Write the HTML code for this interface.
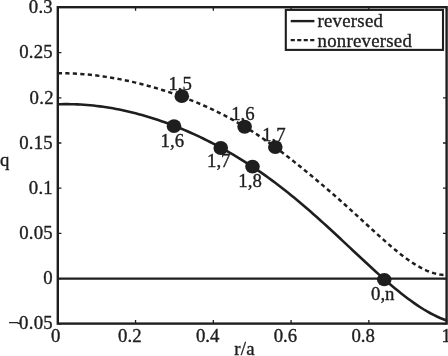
<!DOCTYPE html>
<html><head><meta charset="utf-8"><title>q profile</title>
<style>html,body{margin:0;padding:0;background:#fff;overflow:hidden}svg{display:block}</style>
</head><body>
<svg width="448" height="356" viewBox="0 0 448 356">
<rect width="448" height="356" fill="#fff"/>
<rect x="57.8" y="7.20" width="388.80" height="316.40" fill="none" stroke="#1e1e1e" stroke-width="2.4"/>
<path d="M57.8,323.80h3.6 M446.6,323.80h-3.6 M57.8,278.60h3.6 M446.6,278.60h-3.6 M57.8,233.40h3.6 M446.6,233.40h-3.6 M57.8,188.20h3.6 M446.6,188.20h-3.6 M57.8,143.00h3.6 M446.6,143.00h-3.6 M57.8,97.80h3.6 M446.6,97.80h-3.6 M57.8,52.60h3.6 M57.8,7.40h3.6 M446.6,7.40h-3.6 M57.80,323.60v-3.6 M57.80,7.20v3.6 M135.56,323.60v-3.6 M135.56,7.20v3.6 M213.32,323.60v-3.6 M213.32,7.20v3.6 M291.08,323.60v-3.6 M291.08,7.20v3.6 M368.84,323.60v-3.6 M368.84,7.20v3.6 M446.60,323.60v-3.6 M446.60,7.20v3.6" stroke="#1e1e1e" stroke-width="1.3" fill="none"/>
<path d="M57.8,278.6H446.6" stroke="#1e1e1e" stroke-width="2.4" fill="none"/>
<path d="M57.80,104.29 L61.04,104.20 L64.28,104.15 L67.52,104.15 L70.76,104.18 L74.00,104.26 L77.24,104.38 L80.48,104.54 L83.72,104.74 L86.96,104.98 L90.20,105.26 L93.44,105.58 L96.68,105.94 L99.92,106.34 L103.16,106.78 L106.40,107.26 L109.64,107.78 L112.88,108.33 L116.12,108.93 L119.36,109.57 L122.60,110.24 L125.84,110.95 L129.08,111.70 L132.32,112.48 L135.56,113.31 L138.80,114.17 L142.04,115.06 L145.28,115.99 L148.52,116.96 L151.76,117.96 L155.00,119.00 L158.24,120.07 L161.48,121.18 L164.72,122.32 L167.96,123.50 L171.20,124.72 L174.44,125.96 L177.68,127.24 L180.92,128.56 L184.16,129.91 L187.40,131.30 L190.64,132.72 L193.88,134.17 L197.12,135.66 L200.36,137.19 L203.60,138.75 L206.84,140.35 L210.08,141.98 L213.32,143.64 L216.56,145.35 L219.80,147.09 L223.04,148.86 L226.28,150.67 L229.52,152.52 L232.76,154.41 L236.00,156.33 L239.24,158.30 L242.48,160.30 L245.72,162.34 L248.96,164.42 L252.20,166.54 L255.44,168.70 L258.68,170.90 L261.92,173.14 L265.16,175.42 L268.40,177.75 L271.64,180.11 L274.88,182.52 L278.12,184.97 L281.36,187.46 L284.60,189.99 L287.84,192.56 L291.08,195.17 L294.32,197.82 L297.56,200.50 L300.80,203.22 L304.04,205.97 L307.28,208.76 L310.52,211.58 L313.76,214.42 L317.00,217.30 L320.24,220.20 L323.48,223.13 L326.72,226.08 L329.96,229.05 L333.20,232.04 L336.44,235.04 L339.68,238.06 L342.92,241.08 L346.16,244.12 L349.40,247.15 L352.64,250.19 L355.88,253.23 L359.12,256.26 L362.36,259.28 L365.60,262.29 L368.84,265.28 L372.08,268.25 L375.32,271.20 L378.56,274.12 L381.80,277.01 L385.04,279.86 L388.28,282.68 L391.52,285.44 L394.76,288.16 L398.00,290.82 L401.24,293.42 L404.48,295.95 L407.72,298.42 L410.96,300.81 L414.20,303.12 L417.44,305.34 L420.68,307.47 L423.92,309.50 L427.16,311.43 L430.40,313.25 L433.64,314.95 L436.88,316.53 L440.12,317.99 L443.36,319.30 L446.60,320.48" stroke="#1e1e1e" stroke-width="2.6" fill="none"/>
<path d="M57.80,73.24 L61.04,73.24 L64.28,73.27 L67.52,73.33 L70.76,73.44 L74.00,73.58 L77.24,73.75 L80.48,73.96 L83.72,74.21 L86.96,74.48 L90.20,74.80 L93.44,75.15 L96.68,75.53 L99.92,75.94 L103.16,76.39 L106.40,76.87 L109.64,77.39 L112.88,77.93 L116.12,78.51 L119.36,79.12 L122.60,79.75 L125.84,80.42 L129.08,81.12 L132.32,81.85 L135.56,82.61 L138.80,83.40 L142.04,84.21 L145.28,85.06 L148.52,85.94 L151.76,86.84 L155.00,87.78 L158.24,88.74 L161.48,89.73 L164.72,90.76 L167.96,91.81 L171.20,92.90 L174.44,94.01 L177.68,95.15 L180.92,96.33 L184.16,97.54 L187.40,98.78 L190.64,100.05 L193.88,101.36 L197.12,102.70 L200.36,104.07 L203.60,105.48 L206.84,106.92 L210.08,108.40 L213.32,109.92 L216.56,111.48 L219.80,113.07 L223.04,114.71 L226.28,116.38 L229.52,118.10 L232.76,119.86 L236.00,121.66 L239.24,123.51 L242.48,125.40 L245.72,127.34 L248.96,129.33 L252.20,131.37 L255.44,133.46 L258.68,135.59 L261.92,137.78 L265.16,140.01 L268.40,142.29 L271.64,144.61 L274.88,146.98 L278.12,149.38 L281.36,151.82 L284.60,154.30 L287.84,156.80 L291.08,159.33 L294.32,161.89 L297.56,164.48 L300.80,167.08 L304.04,169.71 L307.28,172.36 L310.52,175.03 L313.76,177.72 L317.00,180.43 L320.24,183.16 L323.48,185.91 L326.72,188.68 L329.96,191.47 L333.20,194.28 L336.44,197.12 L339.68,199.98 L342.92,202.87 L346.16,205.77 L349.40,208.70 L352.64,211.64 L355.88,214.60 L359.12,217.57 L362.36,220.55 L365.60,223.53 L368.84,226.51 L372.08,229.48 L375.32,232.43 L378.56,235.37 L381.80,238.28 L385.04,241.15 L388.28,243.98 L391.52,246.75 L394.76,249.47 L398.00,252.11 L401.24,254.67 L404.48,257.14 L407.72,259.51 L410.96,261.76 L414.20,263.88 L417.44,265.86 L420.68,267.69 L423.92,269.34 L427.16,270.82 L430.40,272.10 L433.64,273.17 L436.88,274.00 L440.12,274.59 L443.36,274.92 L446.60,274.97" stroke="#1e1e1e" stroke-width="2.5" stroke-dasharray="4.2 3.3" fill="none"/>
<ellipse cx="174" cy="126.2" rx="7.3" ry="6.9" fill="#1e1e1e"/>
<ellipse cx="220.75" cy="148" rx="7.3" ry="6.9" fill="#1e1e1e"/>
<ellipse cx="252.5" cy="166.6" rx="7.3" ry="6.9" fill="#1e1e1e"/>
<ellipse cx="181.8" cy="96.2" rx="7.3" ry="6.9" fill="#1e1e1e"/>
<ellipse cx="244.6" cy="126.75" rx="7.3" ry="6.9" fill="#1e1e1e"/>
<ellipse cx="275.3" cy="147.1" rx="7.3" ry="6.9" fill="#1e1e1e"/>
<ellipse cx="384.25" cy="279.6" rx="7.3" ry="6.6" fill="#1e1e1e"/>
<path d="M17.5,323.3H20.6" stroke="#1e1e1e" stroke-width="1.3"/>
<rect x="285.8" y="9.9" width="157.2" height="40" fill="#fff" stroke="#1e1e1e" stroke-width="2.1"/>
<path d="M290.7,21.1H314.4" stroke="#1e1e1e" stroke-width="2.4"/>
<path d="M290.7,40.2H316" stroke="#1e1e1e" stroke-width="2.3" stroke-dasharray="4.1 2.4"/>
<g font-family="'Liberation Serif', serif" fill="#1e1e1e" stroke="#1e1e1e" stroke-width="0.36" letter-spacing="0.25">
<text x="317.5" y="26.8" text-anchor="start" font-size="18.8" >reversed</text>
<text x="317.5" y="46.6" text-anchor="start" font-size="18.8" >nonreversed</text>
<text x="53.0" y="329.20" text-anchor="end" font-size="18.8" >−0.05</text>
<text x="53.0" y="284.40" text-anchor="end" font-size="18.8" >0</text>
<text x="53.0" y="239.20" text-anchor="end" font-size="18.8" >0.05</text>
<text x="53.0" y="194.00" text-anchor="end" font-size="18.8" >0.1</text>
<text x="53.0" y="148.80" text-anchor="end" font-size="18.8" >0.15</text>
<text x="53.8" y="103.60" text-anchor="end" font-size="18.8" >0.2</text>
<text x="53.0" y="58.40" text-anchor="end" font-size="18.8" >0.25</text>
<text x="53.0" y="13.20" text-anchor="end" font-size="18.8" >0.3</text>
<text x="55.80" y="341.6" text-anchor="middle" font-size="18.8" letter-spacing="0">0</text>
<text x="129.86" y="341.6" text-anchor="middle" font-size="18.8" letter-spacing="0">0.2</text>
<text x="207.62" y="341.6" text-anchor="middle" font-size="18.8" letter-spacing="0">0.4</text>
<text x="285.38" y="341.6" text-anchor="middle" font-size="18.8" letter-spacing="0">0.6</text>
<text x="363.14" y="341.6" text-anchor="middle" font-size="18.8" letter-spacing="0">0.8</text>
<text x="446.10" y="341.6" text-anchor="middle" font-size="18.8" letter-spacing="0">1</text>
<text x="234.3" y="354.5" text-anchor="start" font-size="18.8" >r/a</text>
<text x="0.1" y="165.8" text-anchor="start" font-size="18.8" >q</text>
<text x="160.6" y="146.8" text-anchor="start" font-size="18.8" letter-spacing="0">1,6</text>
<text x="207" y="166.75" text-anchor="start" font-size="18.8" letter-spacing="0">1,7</text>
<text x="238.3" y="186.5" text-anchor="start" font-size="18.8" letter-spacing="0">1,8</text>
<text x="168.4" y="90.2" text-anchor="start" font-size="18.8" letter-spacing="0">1,5</text>
<text x="231.2" y="119.8" text-anchor="start" font-size="18.8" letter-spacing="0">1,6</text>
<text x="262.2" y="140.8" text-anchor="start" font-size="18.8" letter-spacing="0">1,7</text>
<text x="371" y="300" text-anchor="start" font-size="18.8" letter-spacing="0">0,n</text>
</g>
</svg>
</body></html>
